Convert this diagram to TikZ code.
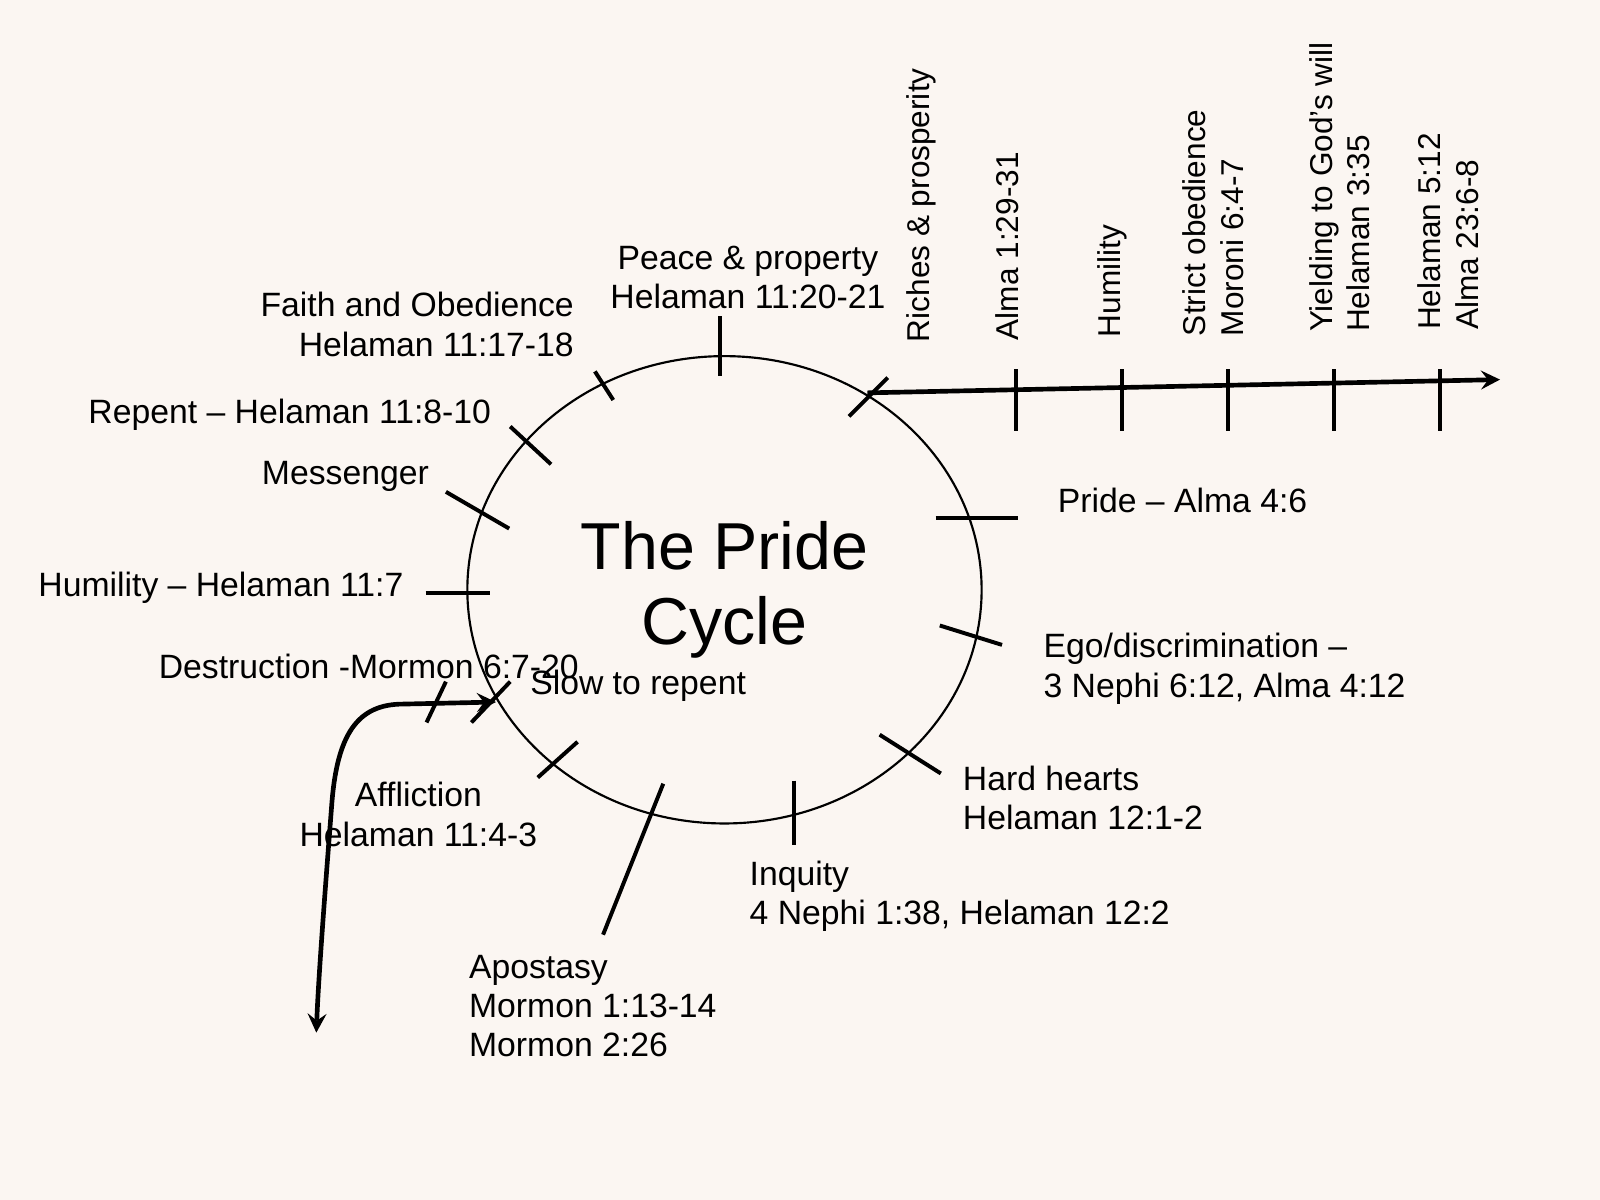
\documentclass[tikz,border=0pt]{standalone}
\usepackage{fontspec}
\setmainfont{Liberation Sans}
\begin{document}
\begin{tikzpicture}[x=0.01cm,y=-0.01cm,
  lbl/.style={font=\fontsize{9.4}{11}\selectfont, inner sep=0pt, align=left},
  lblr/.style={lbl, align=right},
  vlbl/.style={lbl, font=\fontsize{8.8}{10.5}\selectfont, rotate=90, anchor=west},
  tk/.style={line width=1.1pt},
  arr/.style={line width=1.3pt,-stealth}]
\fill[white!93!brown] (0,0) rectangle (1568,1176);
\useasboundingbox (0,0) rectangle (1568,1176);
\draw[line width=0.6pt] (710,578) ellipse [x radius=252, y radius=229];
\node[font=\fontsize{18.5}{21}\selectfont, align=center, inner sep=0pt] (t) at (710,578) {The Pride\\Cycle};
% ticks
\draw[tk] (706,310)--(706,368);
\draw[tk] (583,364)--(601,392);
\draw[tk] (500,418)--(540,455);
\draw[tk] (437,482)--(499,518);
\draw[tk] (417,581)--(480,581);
\draw[tk] (418,708)--(437,668);
\draw[tk] (462,708)--(500,668);
\draw[tk] (527,762)--(566,727);
\draw[tk] (591,916)--(650,768);
\draw[tk] (778,765)--(778,828);
\draw[tk] (862,720)--(922,758);
\draw[tk] (921,613)--(982,632);
\draw[tk] (917,508)--(998,508);
\draw[tk] (832,408)--(870,370);
% timeline
\coordinate (s) at (850,385); \coordinate (e) at (1470,372);
\draw[arr] (s)--(e);
\foreach \x in {996,1100,1203,1307,1411} \draw[tk] (\x,362)--(\x,422);
% curved arrow
\coordinate (a1) at (486,688); \coordinate (a2) at (310,1012);
\draw[line width=1.3pt,stealth-stealth] (a1)--(395,690) .. controls (350,690) and (330,720) .. (325,790) .. controls (318,880) and (312,960) .. (a2);
% labels
\node[lbl, align=center] (p1) at (733,272) {Peace \& property\\Helaman 11:20-21};
\node[lblr, anchor=east] (p2) at (563,318) {Faith and Obedience\\Helaman 11:17-18};
\node[lbl, anchor=west] (p3) at (86,406) {Repent -- Helaman 11:8-10};
\node[lbl, anchor=west] (p4) at (256,467) {Messenger};
\node[lbl, anchor=west] (p5) at (37,576) {Humility -- Helaman 11:7};
\node[lbl, anchor=west] (p6) at (155,653) {Destruction -Mormon 6:7-20};
\node[lbl, anchor=west] (p7) at (519,672) {Slow to repent};
\node[lbl, align=center] (p8) at (410,798) {Affliction\\Helaman 11:4-3};
\node[lbl, anchor=north west] (p9) at (459,935) {Apostasy\\Mormon 1:13-14\\Mormon 2:26};
\node[lbl, anchor=north west] (p10) at (734,843) {Inquity\\4 Nephi 1:38, Helaman 12:2};
\node[lbl, anchor=north west] (p11) at (943,750) {Hard hearts\\Helaman 12:1-2};
\node[lbl, anchor=north west] (p12) at (1022,620) {Ego/discrimination --\\3 Nephi 6:12, Alma 4:12};
\node[lbl, anchor=west] (p13) at (1036,490) {Pride -- Alma 4:6};
\node[vlbl] (v1) at (903,336) {Riches \& prosperity};
\node[vlbl] (v2) at (987,334) {Alma 1:29-31};
\node[vlbl] (v3) at (1090,331) {Humility};
\node[vlbl, align=left] (v4) at (1189,330) {Strict obedience\\Moroni 6:4-7};
\node[vlbl, align=left] (v5) at (1313,326) {Yielding to God's will\\Helaman 3:35};
\node[vlbl, align=left] (v6) at (1419,324) {Helaman 5:12\\Alma 23:6-8};
\end{tikzpicture}
\end{document}
